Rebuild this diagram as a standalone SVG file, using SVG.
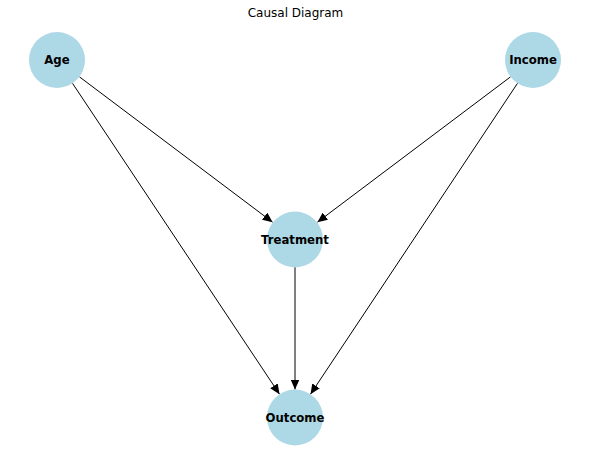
<svg xmlns="http://www.w3.org/2000/svg" width="590" height="462" viewBox="0 0 590 462">
<style>
.node{fill:#add8e6;stroke:none}
.lbl{font-family:"DejaVu Sans",sans-serif;font-weight:bold;font-size:11.7px;text-anchor:middle;fill:#000}
.title{font-family:"DejaVu Sans",sans-serif;font-size:12px;text-anchor:middle;fill:#000}
.edge{stroke:#000;stroke-width:1;fill:none;marker-end:url(#arr)}
</style>
<defs>
<marker id="arr" markerUnits="userSpaceOnUse" markerWidth="10" markerHeight="9" refX="10" refY="4.5" orient="auto">
<path d="M0,0 L10,4.5 L0,9 z" fill="#000"/>
</marker>
</defs>
<rect width="590" height="462" fill="#fff"/>
<text class="title" x="295.5" y="17">Causal Diagram</text>
<g id="connectors">
<line class="edge" x1="79.4" y1="76.8" x2="272.6" y2="222.2"/>
<line class="edge" x1="72.5" y1="83.3" x2="279.5" y2="394.2"/>
<line class="edge" x1="510.6" y1="76.8" x2="317.4" y2="222.2"/>
<line class="edge" x1="517.5" y1="83.3" x2="310.5" y2="394.2"/>
<line class="edge" x1="295" y1="267" x2="295" y2="389.5"/>
</g>
<g id="node-age"><circle class="node" cx="57" cy="60" r="28"/><text class="lbl" x="57" y="64.2">Age</text></g>
<g id="node-income"><circle class="node" cx="533" cy="60" r="28"/><text class="lbl" x="533" y="64.2">Income</text></g>
<g id="node-treatment"><circle class="node" cx="295" cy="239.5" r="28"/><text class="lbl" x="295" y="243.7">Treatment</text></g>
<g id="node-outcome"><circle class="node" cx="295" cy="417.5" r="28"/><text class="lbl" x="295" y="421.7">Outcome</text></g>
</svg>
